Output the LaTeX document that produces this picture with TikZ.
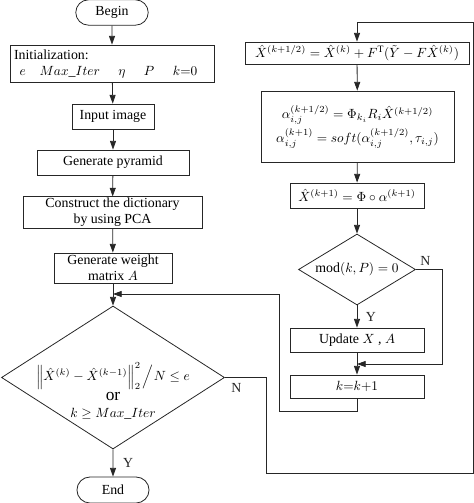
\documentclass[tikz,border=0pt]{standalone}
\usepackage{amsmath}
\usepackage{fontspec}
\setmainfont{Liberation Serif}
\usetikzlibrary{arrows.meta,shapes.geometric,shapes.misc}

\begin{document}
\begin{tikzpicture}[x=0.75pt, y=-0.75pt,
    font=\fontsize{10.4}{12}\selectfont,
    line width=0.6pt, draw=black!85, >={Triangle[length=6.5pt,width=4.5pt]},
    box/.style={draw, rectangle, inner sep=1pt, align=center},
    term/.style={draw, rounded rectangle, minimum width=61pt, minimum height=19pt},
    decide/.style={draw, diamond, inner sep=0pt},
    flow/.style={->, black!85}]
    \useasboundingbox (0,0) rectangle (474,503);

    % Left column
    \node[term] (begin) at (112,12.5) {Begin};
    \node[box, minimum width=153pt, minimum height=27.75pt, align=left, text width=147pt] (init) at (112,63.5)
        {Initialization:\\ \hspace*{0.4em}$e\quad Max\_Iter\quad\ \eta\quad\ P\quad\ k{=}0$};
    \node[box, minimum width=61.5pt, minimum height=18.75pt] (input) at (113,116.5) {Input image};
    \node[box, minimum width=114pt, minimum height=18.75pt] (pyramid) at (113,162.5) {Generate pyramid};
    \node[box, minimum width=134.25pt, minimum height=23.25pt] (dict) at (112.5,212.5)
        {Construct the dictionary\\by using PCA};
    \node[box, minimum width=88.5pt, minimum height=22.5pt] (weight) at (113,268)
        {Generate weight\\matrix $A$};
    \node[decide, minimum width=167.25pt, minimum height=107.25pt] (stop) at (113,377.5) {};
    \node[align=center] (stoptext) at (113,391)
        {$\left\|\hat{X}^{(k)}-\hat{X}^{(k-1)}\right\|_2^2\Big/N\le e$\\[1pt]
         \fontsize{13}{13}\selectfont or\\[1pt]
         $k\ge Max\_Iter$};
    \node[term, minimum width=60.75pt, minimum height=19.5pt] (end) at (113,490) {End};

    % Right column
    \node[box, minimum width=168pt, minimum height=16.5pt] (grad) at (357,53)
        {$\hat{X}^{(k+1/2)}=\hat{X}^{(k)}+F^{\mathrm{T}}(\tilde{Y}-F\hat{X}^{(k)})$};
    \node[box, minimum width=144.75pt, minimum height=53.25pt] (coef) at (357.5,126.5)
        {$\alpha_{i,j}^{(k+1/2)}=\Phi_{k_i}R_i\hat{X}^{(k+1/2)}$\\[2pt]
         $\alpha_{i,j}^{(k+1)}=soft(\alpha_{i,j}^{(k+1/2)},\tau_{i,j})$};
    \node[box, minimum width=100.5pt, minimum height=18.75pt] (recon) at (357,195.5)
        {$\hat{X}^{(k+1)}=\Phi\circ\alpha^{(k+1)}$};
    \node[decide, minimum width=87.75pt, minimum height=53.25pt] (mod) at (357,269.5) {};
    \node (modtext) at (357,269.5) {$\mathrm{mod}(k,P)=0$};
    \node[box, minimum width=100.5pt, minimum height=18pt] (update) at (357,340) {Update $X$ , $A$};
    \node[box, minimum width=100.5pt, minimum height=17.25pt] (kinc) at (357,386.5) {$k{=}k{+}1$};

    % Corner points of the loops
    \coordinate (loopA) at (266,473);
    \coordinate (loopB) at (473,22);
    \coordinate (backA) at (279,411);
    \coordinate (backB) at (113,294);
    \coordinate (skip) at (442,364);
    \coordinate (join) at (357,364);

    % Connectors
    \draw[flow] (begin) -- (init);
    \draw[flow] (init) -- (input);
    \draw[flow] (input) -- (pyramid);
    \draw[flow] (pyramid) -- (dict);
    \draw[flow] (dict) -- (weight);
    \draw[flow] (weight) -- (stop.north);
    \draw[flow] (stop.south) -- node[right, xshift=4pt] {Y} (end);
    \draw[flow] (stop.east) node[below right, inner sep=4.5pt] {N} -| (loopA) -| (loopB) -| (grad.north);
    \draw[flow] (grad) -- (coef);
    \draw[flow] (coef) -- (recon);
    \draw[flow] (recon) -- (mod.north);
    \draw[flow] (mod.south) -- node[right, xshift=3pt] {Y} (update);
    \draw[flow] (update) -- (kinc);
    \draw[flow] (mod.east) node[above right, inner sep=3pt] {N} -| (skip) -- (join);
    \draw[flow] (kinc.south) |- (backA) |- (backB);
\end{tikzpicture}
\end{document}
